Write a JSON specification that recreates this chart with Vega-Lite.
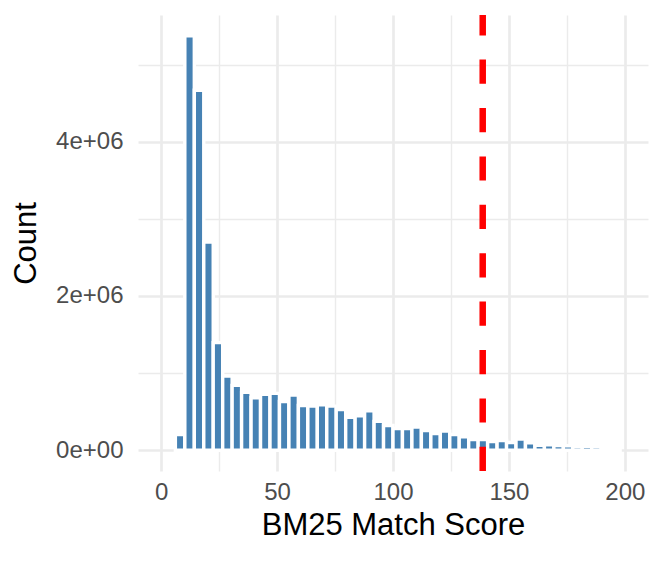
{
  "$schema": "https://vega.github.io/schema/vega-lite/v6.json",
  "description": "Histogram of BM25 match scores with a dashed red cutoff line.",
  "width": 510,
  "height": 456,
  "autosize": {"type": "none"},
  "padding": {"left": 138, "top": 15, "right": 16, "bottom": 91},
  "background": "white",
  "config": {
    "view": {"stroke": null},
    "font": "Liberation Sans"
  },
  "layer": [
    {
      "data": {
        "values": [
          {"bin_start": 6.12, "bin_end": 10.20, "count": 205000},
          {"bin_start": 10.20, "bin_end": 14.29, "count": 5374000},
          {"bin_start": 14.29, "bin_end": 18.37, "count": 4668000},
          {"bin_start": 18.37, "bin_end": 22.45, "count": 2700000},
          {"bin_start": 22.45, "bin_end": 26.53, "count": 1395000},
          {"bin_start": 26.53, "bin_end": 30.61, "count": 961000},
          {"bin_start": 30.61, "bin_end": 34.69, "count": 841000},
          {"bin_start": 34.69, "bin_end": 38.78, "count": 750000},
          {"bin_start": 38.78, "bin_end": 42.86, "count": 681000},
          {"bin_start": 42.86, "bin_end": 46.94, "count": 724000},
          {"bin_start": 46.94, "bin_end": 51.02, "count": 737000},
          {"bin_start": 51.02, "bin_end": 55.10, "count": 633000},
          {"bin_start": 55.10, "bin_end": 59.18, "count": 715000},
          {"bin_start": 59.18, "bin_end": 63.27, "count": 581000},
          {"bin_start": 63.27, "bin_end": 67.35, "count": 572000},
          {"bin_start": 67.35, "bin_end": 71.43, "count": 590000},
          {"bin_start": 71.43, "bin_end": 75.51, "count": 572000},
          {"bin_start": 75.51, "bin_end": 79.59, "count": 529000},
          {"bin_start": 79.59, "bin_end": 83.67, "count": 426000},
          {"bin_start": 83.67, "bin_end": 87.76, "count": 448000},
          {"bin_start": 87.76, "bin_end": 91.84, "count": 512000},
          {"bin_start": 91.84, "bin_end": 95.92, "count": 374000},
          {"bin_start": 95.92, "bin_end": 100.00, "count": 322000},
          {"bin_start": 100.00, "bin_end": 104.08, "count": 283000},
          {"bin_start": 104.08, "bin_end": 108.16, "count": 283000},
          {"bin_start": 108.16, "bin_end": 112.24, "count": 300000},
          {"bin_start": 112.24, "bin_end": 116.33, "count": 257000},
          {"bin_start": 116.33, "bin_end": 120.41, "count": 218000},
          {"bin_start": 120.41, "bin_end": 124.49, "count": 248000},
          {"bin_start": 124.49, "bin_end": 128.57, "count": 205000},
          {"bin_start": 128.57, "bin_end": 132.65, "count": 175000},
          {"bin_start": 132.65, "bin_end": 136.73, "count": 140000},
          {"bin_start": 136.73, "bin_end": 140.82, "count": 140000},
          {"bin_start": 140.82, "bin_end": 144.90, "count": 114000},
          {"bin_start": 144.90, "bin_end": 148.98, "count": 127000},
          {"bin_start": 148.98, "bin_end": 153.06, "count": 101000},
          {"bin_start": 153.06, "bin_end": 157.14, "count": 144000},
          {"bin_start": 157.14, "bin_end": 161.22, "count": 97000},
          {"bin_start": 161.22, "bin_end": 165.31, "count": 66000},
          {"bin_start": 165.31, "bin_end": 169.39, "count": 71000},
          {"bin_start": 169.39, "bin_end": 173.47, "count": 62000},
          {"bin_start": 173.47, "bin_end": 177.55, "count": 58000},
          {"bin_start": 177.55, "bin_end": 181.63, "count": 49000},
          {"bin_start": 181.63, "bin_end": 185.71, "count": 53000},
          {"bin_start": 185.71, "bin_end": 189.80, "count": 49000},
          {"bin_start": 189.80, "bin_end": 193.88, "count": 36000},
          {"bin_start": 193.88, "bin_end": 197.96, "count": 32000}
        ]
      },
      "mark": {"type": "bar", "color": "#4682B4", "stroke": "white", "strokeWidth": 3.4},
      "encoding": {
        "x": {
          "field": "bin_start",
          "type": "quantitative",
          "scale": {"domain": [-10, 210], "nice": false, "zero": false},
          "axis": {
            "title": "BM25 Match Score",
            "values": [0, 25, 50, 75, 100, 125, 150, 175, 200],
            "labelExpr": "datum.value % 50 === 0 ? datum.label : ''",
            "grid": true,
            "gridColor": "#EBEBEB",
            "gridWidth": {"condition": {"test": "datum.value % 50 === 0", "value": 2.7}, "value": 1.4},
            "domain": false,
            "ticks": false,
            "tickSize": 0,
            "labelFlush": false,
            "labelOverlap": false,
            "labelFontSize": 24,
            "labelColor": "#4D4D4D",
            "labelPadding": 9,
            "titleFontSize": 31,
            "titleFontWeight": "normal",
            "titleColor": "#000000",
            "titlePadding": 6
          }
        },
        "x2": {"field": "bin_end"},
        "y": {
          "field": "count",
          "type": "quantitative",
          "scale": {"domain": [-268700, 5642700], "nice": false, "zero": false},
          "axis": {
            "title": "Count",
            "values": [0, 1000000, 2000000, 3000000, 4000000, 5000000],
            "labelExpr": "datum.value === 0 ? '0e+00' : (datum.value % 2000000 === 0 ? (datum.value / 1000000) + 'e+06' : '')",
            "grid": true,
            "gridColor": "#EBEBEB",
            "gridWidth": {"condition": {"test": "datum.value % 2000000 === 0", "value": 2.7}, "value": 1.4},
            "domain": false,
            "ticks": false,
            "tickSize": 0,
            "labelFlush": false,
            "labelOverlap": false,
            "labelFontSize": 24,
            "labelColor": "#4D4D4D",
            "labelPadding": 15,
            "titleFontSize": 31,
            "titleFontWeight": "normal",
            "titleColor": "#000000",
            "titlePadding": 13
          }
        },
        "y2": {"datum": 0}
      }
    },
    {
      "data": {"values": [{"cutoff": 138.7}]},
      "mark": {"type": "rule", "color": "#FF0000", "strokeWidth": 6.5, "strokeDash": [24.2, 24.2], "strokeCap": "butt"},
      "encoding": {
        "x": {"field": "cutoff", "type": "quantitative"},
        "y": {"datum": -268700},
        "y2": {"datum": 5642700}
      }
    }
  ]
}
